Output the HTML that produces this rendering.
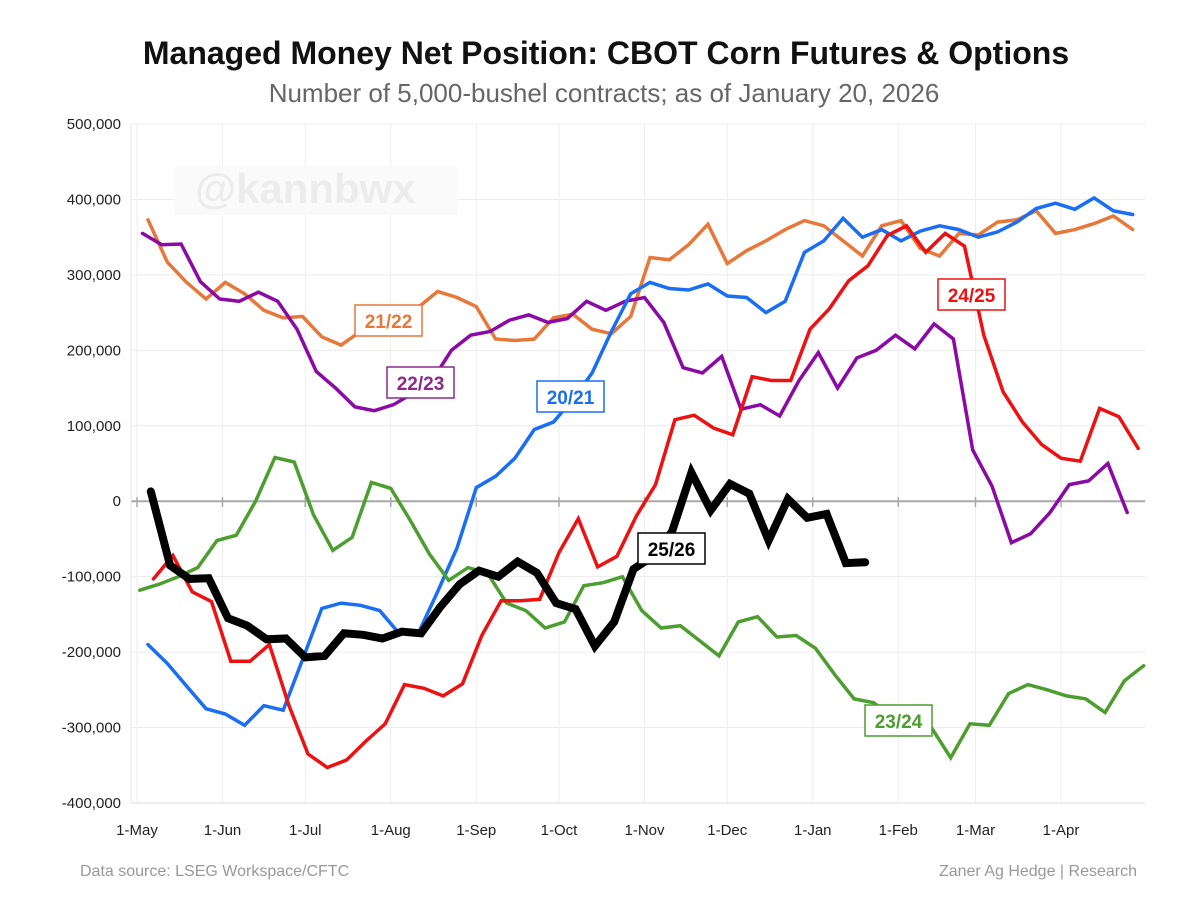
<!DOCTYPE html>
<html><head><meta charset="utf-8"><style>
body{margin:0;background:#fff;}
svg{display:block;font-family:"Liberation Sans",sans-serif;}
</style></head><body>
<svg id="chart" width="1200" height="897" viewBox="0 0 1200 897">
<text x="606" y="64" text-anchor="middle" font-size="32" font-weight="bold" fill="#111">Managed Money Net Position: CBOT Corn Futures &amp; Options</text>
<text x="604" y="102" text-anchor="middle" font-size="26" fill="#666">Number of 5,000-bushel contracts; as of January 20, 2026</text>
<g id="grid"></g>
<rect x="175" y="165" width="282" height="50" fill="#fafafa"/>
<text x="195" y="203" font-size="42" font-weight="bold" fill="#ececec">@kannbwx</text>
<g id="series"></g>
<g id="labels"></g>
<text x="80" y="876" font-size="16" fill="#999">Data source: LSEG Workspace/CFTC</text>
<text x="1137" y="876" text-anchor="end" font-size="16" fill="#999">Zaner Ag Hedge | Research</text>
</svg>
<script>
const yTicks=[-400000,-300000,-200000,-100000,0,100000,200000,300000,400000,500000];
const months=["1-May","1-Jun","1-Jul","1-Aug","1-Sep","1-Oct","1-Nov","1-Dec","1-Jan","1-Feb","1-Mar","1-Apr"];
const monthDays=[0,31,61,92,123,153,184,214,245,276,304,335];
const s2021=[-190,-215,-245,-275,-282,-297,-271,-277,-210,-142,-135,-138,-145,-175,-175,-120,-62,18,33,57,95,105,135,170,225,275,290,282,280,288,272,270,250,265,330,345,375,350,360,345,358,365,360,350,357,370,388,395,387,402,385,380];
const s2122=[373,317,290,268,290,275,253,243,245,218,207,225,245,243,257,278,270,258,215,213,215,243,248,228,222,245,323,320,340,367,315,332,345,360,372,365,345,325,365,372,335,325,355,353,370,373,385,355,360,368,378,360];
const s2223=[355,340,341,291,268,265,277,265,228,172,150,125,120,128,143,160,200,220,225,240,247,237,242,265,253,265,270,237,177,170,192,122,128,113,160,197,150,190,200,220,202,235,215,68,20,-55,-43,-15,22,27,50,-15];
const s2324=[-118,-110,-100,-88,-52,-45,0,58,52,-18,-65,-48,25,17,-25,-70,-105,-88,-95,-135,-145,-168,-160,-112,-108,-100,-145,-168,-165,-185,-205,-160,-153,-180,-178,-195,-230,-262,-267,-285,-300,-300,-340,-295,-297,-255,-243,-250,-258,-262,-280,-238,-218];
const s2425=[-103,-72,-120,-133,-212,-212,-190,-270,-335,-353,-343,-318,-295,-243,-248,-258,-242,-178,-132,-132,-130,-68,-23,-87,-73,-20,22,108,114,97,88,165,160,160,228,255,292,312,352,365,330,355,338,220,145,105,75,57,53,123,112,70];
const s2526=[13,-85,-103,-102,-155,-165,-183,-182,-207,-205,-175,-177,-182,-173,-175,-140,-110,-92,-100,-80,-95,-135,-143,-192,-160,-90,-73,-40,38,-12,23,10,-52,3,-22,-17,-82,-81];
const startDays={s2021:4,s2122:4,s2223:2,s2324:1,s2425:6,s2526:5};

const NS="http://www.w3.org/2000/svg";
const X0=131,X1=1145;
const xDay=d=>137+d*(1061-137)/335;
const yVal=v=>124+(500000-v)*(803-124)/900000;
function mk(tag,attrs,parent){const e=document.createElementNS(NS,tag);for(const k in attrs)e.setAttribute(k,attrs[k]);parent.appendChild(e);return e;}
const grid=document.getElementById('grid');
yTicks.forEach(v=>{
  const y=yVal(v);
  const l=mk('line',{x1:X0,x2:X1,y1:y,y2:y,stroke:v===0?'#a8a8a8':'#ececec','stroke-width':v===0?2:1},grid);
  
  
  const t=mk('text',{x:121,y:y+5,'text-anchor':'end','font-size':15,fill:'#222'},grid);
  t.textContent=v.toLocaleString('en-US');
  
  
});
months.forEach((m,i)=>{
  const x=xDay(monthDays[i]);
  const l=mk('line',{x1:x,x2:x,y1:124,y2:803,stroke:'#eeeeee','stroke-width':1},grid);
  
  
  const tk=mk('line',{x1:x,x2:x,y1:497,y2:507,stroke:'#a8a8a8','stroke-width':1.5},grid);
  
  
  const t=mk('text',{x:x,y:835,'text-anchor':'middle','font-size':15,fill:'#222'},grid);
  t.textContent=m;
  
  
});
const ax=mk('line',{x1:X0,x2:X1,y1:803,y2:803,stroke:'#dddddd','stroke-width':1},grid);


const axl=mk('line',{x1:X0,x2:X0,y1:124,y2:803,stroke:'#e6e6e6','stroke-width':1},grid);



const seriesG=document.getElementById('series');
const defs=[
 ['s2122',s2122,'#e8773a',3.5,'series-21-22'],
 ['s2223',s2223,'#8b0aa5',3.5,'series-22-23'],
 ['s2021',s2021,'#1a6ef5',3.5,'series-20-21'],
 ['s2324',s2324,'#4c9e2f',3.5,'series-23-24'],
 ['s2425',s2425,'#ee1111',3.5,'series-24-25'],
 ['s2526',s2526,'#000000',8,'series-25-26']];
defs.forEach(([key,arr,col,w,name])=>{
  const sd=startDays[key];
  const pts=arr.map((v,i)=>xDay(sd+7*i).toFixed(1)+','+yVal(v*1000).toFixed(1)).join(' ');
  const p=mk('polyline',{points:pts,fill:'none',stroke:col,'stroke-width':w,'stroke-linejoin':'miter','stroke-linecap':'round'},seriesG);
  
  
});
const labs=[['21/22',355,305,'#e8773a','label-21-22'],['22/23',387,367,'#8b2a8a','label-22-23'],['20/21',537,381,'#1a6ef5','label-20-21'],['25/26',638,533,'#000','label-25-26'],['24/25',938,279,'#ee1111','label-24-25'],['23/24',865,705,'#4c9e2f','label-23-24']];
const lg=document.getElementById('labels');
labs.forEach(([t,x,y,c,n])=>{
  const g=mk('g',{},lg);
  
  
  mk('rect',{x:x,y:y,width:67,height:31,fill:'#fff',stroke:c,'stroke-width':1.5},g);
  const tx=mk('text',{x:x+33.5,y:y+23,'text-anchor':'middle','font-size':19,'font-weight':'bold',fill:c},g);
  tx.textContent=t;
});
</script>
</body></html>
